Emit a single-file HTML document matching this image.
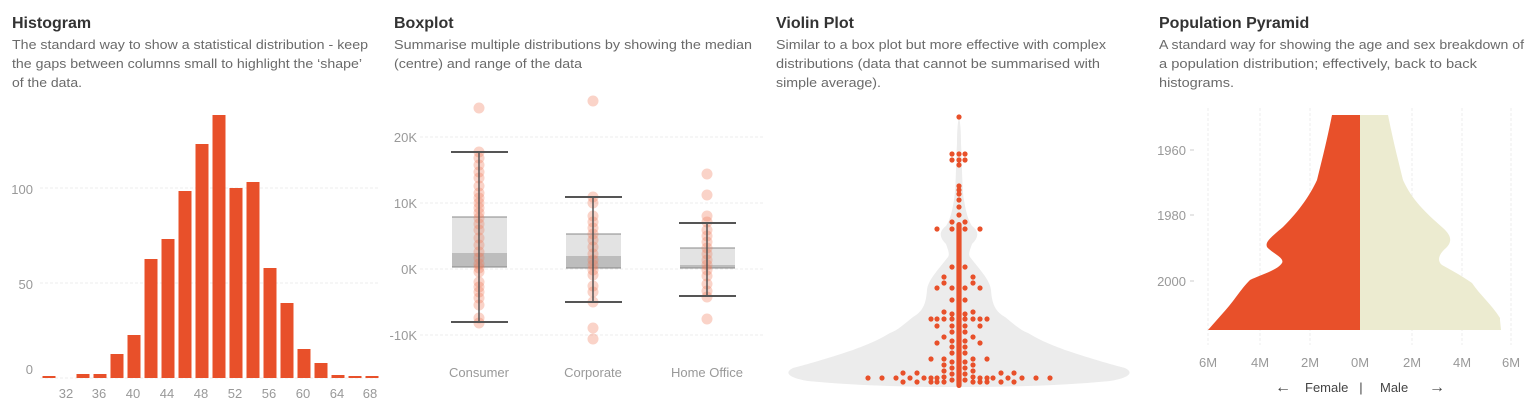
<!DOCTYPE html>
<html><head><meta charset="utf-8"><style>
html,body{margin:0;padding:0;background:#fff;}
svg{display:block;font-family:"Liberation Sans",sans-serif;}
.t{font-size:16px;font-weight:bold;fill:#333;}
.d{font-size:13px;fill:#6a6a6a;}
.ax{font-size:13px;fill:#999;}
.g{stroke:#ececec;stroke-width:1;stroke-dasharray:3 2;}
</style></head><body>
<svg width="1536" height="419" viewBox="0 0 1536 419" xmlns="http://www.w3.org/2000/svg">
<text class="t" x="12" y="28">Histogram</text>
<text class="d" x="12" y="49" textLength="356" lengthAdjust="spacingAndGlyphs">The standard way to show a statistical distribution - keep</text>
<text class="d" x="12" y="68" textLength="350" lengthAdjust="spacingAndGlyphs">the gaps between columns small to highlight the ‘shape’</text>
<text class="d" x="12" y="87" textLength="70" lengthAdjust="spacingAndGlyphs">of the data.</text>

<text class="t" x="394" y="28">Boxplot</text>
<text class="d" x="394" y="49" textLength="358" lengthAdjust="spacingAndGlyphs">Summarise multiple distributions by showing the median</text>
<text class="d" x="394" y="68" textLength="188" lengthAdjust="spacingAndGlyphs">(centre) and range of the data</text>

<text class="t" x="776" y="28">Violin Plot</text>
<text class="d" x="776" y="49" textLength="330" lengthAdjust="spacingAndGlyphs">Similar to a box plot but more effective with complex</text>
<text class="d" x="776" y="68" textLength="324" lengthAdjust="spacingAndGlyphs">distributions (data that cannot be summarised with</text>
<text class="d" x="776" y="87" textLength="105" lengthAdjust="spacingAndGlyphs">simple average).</text>

<text class="t" x="1159" y="28">Population Pyramid</text>
<text class="d" x="1159" y="49" textLength="365" lengthAdjust="spacingAndGlyphs">A standard way for showing the age and sex breakdown of</text>
<text class="d" x="1159" y="68" textLength="318" lengthAdjust="spacingAndGlyphs">a population distribution; effectively, back to back</text>
<text class="d" x="1159" y="87" textLength="75" lengthAdjust="spacingAndGlyphs">histograms.</text>

<!-- Histogram -->
<line class="g" x1="40" y1="188" x2="380" y2="188"/>
<line class="g" x1="40" y1="283" x2="380" y2="283"/>
<line class="g" x1="40" y1="378" x2="380" y2="378"/>
<g class="ax" text-anchor="end">
<text x="33" y="194">100</text><text x="33" y="289">50</text><text x="33" y="374">0</text>
</g>
<g fill="#e8502a">
<rect x="42.5" y="376" width="13" height="2"/>
<rect x="76.5" y="374" width="13" height="4"/>
<rect x="93.5" y="374" width="13" height="4"/>
<rect x="110.5" y="354" width="13" height="24"/>
<rect x="127.5" y="335" width="13" height="43"/>
<rect x="144.5" y="259" width="13" height="119"/>
<rect x="161.5" y="239" width="13" height="139"/>
<rect x="178.5" y="191" width="13" height="187"/>
<rect x="195.5" y="144" width="13" height="234"/>
<rect x="212.5" y="115" width="13" height="263"/>
<rect x="229.5" y="188" width="13" height="190"/>
<rect x="246.5" y="182" width="13" height="196"/>
<rect x="263.5" y="268" width="13" height="110"/>
<rect x="280.5" y="303" width="13" height="75"/>
<rect x="297.5" y="349" width="13" height="29"/>
<rect x="314.5" y="363" width="13" height="15"/>
<rect x="331.5" y="375" width="13" height="3"/>
<rect x="348.5" y="376" width="13" height="2"/>
<rect x="365.5" y="376" width="13" height="2"/>
</g>
<g class="ax" text-anchor="middle">
<text x="66" y="398">32</text><text x="99" y="398">36</text><text x="133" y="398">40</text><text x="167" y="398">44</text><text x="201" y="398">48</text><text x="235" y="398">52</text><text x="269" y="398">56</text><text x="303" y="398">60</text><text x="337" y="398">64</text><text x="370" y="398">68</text>
</g>

<!-- Boxplot -->
<line class="g" x1="420" y1="137" x2="763" y2="137"/>
<line class="g" x1="420" y1="203" x2="763" y2="203"/>
<line class="g" x1="420" y1="269" x2="763" y2="269"/>
<line class="g" x1="420" y1="335" x2="763" y2="335"/>
<g class="ax" text-anchor="end">
<text x="417" y="142">20K</text><text x="417" y="208">10K</text><text x="417" y="274">0K</text><text x="417" y="340">-10K</text>
</g>
<rect x="452" y="217" width="55" height="36" fill="#e3e3e3"/><rect x="452" y="253" width="55" height="14" fill="#bdbdbd"/>
<rect x="566" y="234" width="55" height="22" fill="#e3e3e3"/><rect x="566" y="256" width="55" height="12" fill="#bdbdbd"/>
<rect x="680" y="248" width="55" height="17" fill="#e3e3e3"/><rect x="680" y="265" width="55" height="3" fill="#bdbdbd"/>
<g stroke="#888" stroke-width="1">
<line x1="452" y1="217" x2="507" y2="217"/><line x1="452" y1="267" x2="507" y2="267"/>
<line x1="566" y1="234" x2="621" y2="234"/><line x1="566" y1="268" x2="621" y2="268"/>
<line x1="680" y1="248" x2="735" y2="248"/><line x1="680" y1="268" x2="735" y2="268"/>
</g>
<g fill="#f07858" fill-opacity="0.33">
<circle cx="479" cy="108" r="5.5"/><circle cx="479" cy="152" r="5.5"/><circle cx="479" cy="158" r="5.5"/><circle cx="479" cy="165" r="5.5"/><circle cx="479" cy="172" r="5.5"/><circle cx="479" cy="178" r="5.5"/><circle cx="479" cy="186" r="5.5"/><circle cx="479" cy="193" r="5.5"/><circle cx="479" cy="198" r="5.5"/><circle cx="479" cy="203" r="5.5"/><circle cx="479" cy="208" r="5.5"/><circle cx="479" cy="213" r="5.5"/><circle cx="479" cy="218" r="5.5"/><circle cx="479" cy="224" r="5.5"/><circle cx="479" cy="230" r="5.5"/><circle cx="479" cy="238" r="5.5"/><circle cx="479" cy="245" r="5.5"/><circle cx="479" cy="252" r="5.5"/><circle cx="479" cy="258" r="5.5"/><circle cx="479" cy="264" r="5.5"/><circle cx="479" cy="268" r="5.5"/><circle cx="479" cy="272" r="5.5"/><circle cx="479" cy="282" r="5.5"/><circle cx="479" cy="287" r="5.5"/><circle cx="479" cy="292" r="5.5"/><circle cx="479" cy="298" r="5.5"/><circle cx="479" cy="305" r="5.5"/><circle cx="479" cy="318" r="5.5"/><circle cx="479" cy="323" r="5.5"/>
<circle cx="593" cy="101" r="5.5"/><circle cx="593" cy="197" r="5.5"/><circle cx="593" cy="203" r="5.5"/><circle cx="593" cy="216" r="5.5"/><circle cx="593" cy="222" r="5.5"/><circle cx="593" cy="228" r="5.5"/><circle cx="593" cy="234" r="5.5"/><circle cx="593" cy="240" r="5.5"/><circle cx="593" cy="247" r="5.5"/><circle cx="593" cy="254" r="5.5"/><circle cx="593" cy="260" r="5.5"/><circle cx="593" cy="265" r="5.5"/><circle cx="593" cy="270" r="5.5"/><circle cx="593" cy="275" r="5.5"/><circle cx="593" cy="286" r="5.5"/><circle cx="593" cy="292" r="5.5"/><circle cx="593" cy="302" r="5.5"/><circle cx="593" cy="328" r="5.5"/><circle cx="593" cy="339" r="5.5"/>
<circle cx="707" cy="174" r="5.5"/><circle cx="707" cy="195" r="5.5"/><circle cx="707" cy="216" r="5.5"/><circle cx="707" cy="222" r="5.5"/><circle cx="707" cy="230" r="5.5"/><circle cx="707" cy="236" r="5.5"/><circle cx="707" cy="242" r="5.5"/><circle cx="707" cy="248" r="5.5"/><circle cx="707" cy="254" r="5.5"/><circle cx="707" cy="260" r="5.5"/><circle cx="707" cy="265" r="5.5"/><circle cx="707" cy="270" r="5.5"/><circle cx="707" cy="276" r="5.5"/><circle cx="707" cy="284" r="5.5"/><circle cx="707" cy="291" r="5.5"/><circle cx="707" cy="297" r="5.5"/><circle cx="707" cy="319" r="5.5"/>
</g>
<g stroke="#555" stroke-width="2">
<line x1="479" y1="152" x2="479" y2="322" stroke-width="1.5"/><line x1="451" y1="152" x2="508" y2="152"/><line x1="451" y1="322" x2="508" y2="322"/>
<line x1="593" y1="197" x2="593" y2="302" stroke-width="1.5"/><line x1="565" y1="197" x2="622" y2="197"/><line x1="565" y1="302" x2="622" y2="302"/>
<line x1="707" y1="223" x2="707" y2="296" stroke-width="1.5"/><line x1="679" y1="223" x2="736" y2="223"/><line x1="679" y1="296" x2="736" y2="296"/>
</g>
<g class="ax" text-anchor="middle">
<text x="479" y="377">Consumer</text><text x="593" y="377">Corporate</text><text x="707" y="377">Home Office</text>
</g>

<!-- Violin -->
<path fill="#ececec" d="M959,117 C961,125 961,140 961,143 C962,160 962,190 964,200 C966,212 968,220 972,226 C980,232 978,238 972,244 C970,250 968,254 970,257 C980,270 990,280 991,290 C992,305 996,312 1005,317 C1015,325 1020,330 1028,333 C1045,343 1055,346 1065,350 C1095,360 1110,364 1125,368 C1135,373 1128,378 1110,381 C1060,386 1000,387 959,387 C918,387 858,386 808,381 C790,378 783,373 793,368 C808,364 823,360 853,350 C863,346 873,343 890,333 C898,330 903,325 913,317 C922,312 926,305 927,290 C928,280 938,270 948,257 C950,254 948,250 946,244 C940,238 938,232 946,226 C950,220 952,212 954,200 C956,190 956,160 957,143 C957,140 957,125 959,117 Z"/>
<g fill="#e8502a">
<circle cx="959" cy="117" r="2.6"/>
<circle cx="952" cy="154" r="2.6"/><circle cx="959" cy="154" r="2.6"/><circle cx="965" cy="154" r="2.6"/>
<circle cx="952" cy="160" r="2.6"/><circle cx="959" cy="160" r="2.6"/><circle cx="965" cy="160" r="2.6"/><circle cx="959" cy="165" r="2.6"/>
<circle cx="959" cy="186" r="2.6"/><circle cx="959" cy="190" r="2.6"/><circle cx="959" cy="194" r="2.6"/><circle cx="959" cy="200" r="2.6"/><circle cx="959" cy="207" r="2.6"/><circle cx="959" cy="215" r="2.6"/>
<circle cx="952" cy="222" r="2.6"/><circle cx="965" cy="222" r="2.6"/><circle cx="952" cy="229" r="2.6"/><circle cx="965" cy="229" r="2.6"/>
<circle cx="937" cy="229" r="2.6"/><circle cx="980" cy="229" r="2.6"/>
<circle cx="944" cy="277" r="2.6"/><circle cx="973" cy="277" r="2.6"/><circle cx="944" cy="283" r="2.6"/><circle cx="973" cy="283" r="2.6"/>
<circle cx="952" cy="267" r="2.6"/><circle cx="965" cy="267" r="2.6"/>
<circle cx="937" cy="288" r="2.6"/><circle cx="952" cy="288" r="2.6"/><circle cx="965" cy="288" r="2.6"/><circle cx="980" cy="288" r="2.6"/>
<circle cx="952" cy="300" r="2.6"/><circle cx="965" cy="300" r="2.6"/>
<circle cx="944" cy="312" r="2.6"/><circle cx="973" cy="312" r="2.6"/><circle cx="952" cy="314" r="2.6"/><circle cx="965" cy="314" r="2.6"/>
<circle cx="931" cy="319" r="2.6"/><circle cx="937" cy="319" r="2.6"/><circle cx="944" cy="319" r="2.6"/><circle cx="952" cy="319" r="2.6"/><circle cx="965" cy="319" r="2.6"/><circle cx="973" cy="319" r="2.6"/><circle cx="980" cy="319" r="2.6"/><circle cx="987" cy="319" r="2.6"/>
<circle cx="937" cy="326" r="2.6"/><circle cx="952" cy="326" r="2.6"/><circle cx="965" cy="326" r="2.6"/><circle cx="980" cy="326" r="2.6"/><circle cx="952" cy="332" r="2.6"/><circle cx="965" cy="332" r="2.6"/>
<circle cx="944" cy="337" r="2.6"/><circle cx="973" cy="337" r="2.6"/><circle cx="937" cy="343" r="2.6"/><circle cx="980" cy="343" r="2.6"/>
<circle cx="952" cy="341" r="2.6"/><circle cx="965" cy="341" r="2.6"/><circle cx="952" cy="347" r="2.6"/><circle cx="965" cy="347" r="2.6"/><circle cx="952" cy="353" r="2.6"/><circle cx="965" cy="353" r="2.6"/>
<circle cx="931" cy="359" r="2.6"/><circle cx="987" cy="359" r="2.6"/>
<circle cx="944" cy="359" r="2.6"/><circle cx="944" cy="365" r="2.6"/><circle cx="944" cy="371" r="2.6"/><circle cx="944" cy="377" r="2.6"/><circle cx="944" cy="382" r="2.6"/>
<circle cx="973" cy="359" r="2.6"/><circle cx="973" cy="365" r="2.6"/><circle cx="973" cy="371" r="2.6"/><circle cx="973" cy="377" r="2.6"/><circle cx="973" cy="382" r="2.6"/>
<circle cx="952" cy="362" r="2.6"/><circle cx="952" cy="368" r="2.6"/><circle cx="952" cy="374" r="2.6"/><circle cx="952" cy="380" r="2.6"/>
<circle cx="965" cy="362" r="2.6"/><circle cx="965" cy="368" r="2.6"/><circle cx="965" cy="374" r="2.6"/><circle cx="965" cy="380" r="2.6"/>
<circle cx="868" cy="378" r="2.6"/><circle cx="882" cy="378" r="2.6"/><circle cx="896" cy="378" r="2.6"/><circle cx="910" cy="378" r="2.6"/><circle cx="924" cy="378" r="2.6"/><circle cx="931" cy="378" r="2.6"/><circle cx="937" cy="378" r="2.6"/><circle cx="980" cy="378" r="2.6"/><circle cx="987" cy="378" r="2.6"/><circle cx="993" cy="378" r="2.6"/><circle cx="1008" cy="378" r="2.6"/><circle cx="1022" cy="378" r="2.6"/><circle cx="1036" cy="378" r="2.6"/><circle cx="1050" cy="378" r="2.6"/>
<circle cx="903" cy="373" r="2.6"/><circle cx="917" cy="373" r="2.6"/><circle cx="1001" cy="373" r="2.6"/><circle cx="1014" cy="373" r="2.6"/>
<circle cx="903" cy="382" r="2.6"/><circle cx="917" cy="382" r="2.6"/><circle cx="1001" cy="382" r="2.6"/><circle cx="1014" cy="382" r="2.6"/>
<circle cx="931" cy="382" r="2.6"/><circle cx="937" cy="382" r="2.6"/><circle cx="980" cy="382" r="2.6"/><circle cx="987" cy="382" r="2.6"/>
<rect x="956.4" y="222" width="5.2" height="166" rx="2.6"/>
</g>

<!-- Pyramid -->
<g class="g">
<line x1="1208" y1="108" x2="1208" y2="345"/><line x1="1260" y1="108" x2="1260" y2="345"/><line x1="1310" y1="108" x2="1310" y2="345"/><line x1="1412" y1="108" x2="1412" y2="345"/><line x1="1462" y1="108" x2="1462" y2="345"/><line x1="1511" y1="108" x2="1511" y2="345"/>
</g>
<g class="ax" text-anchor="end">
<text x="1186" y="155">1960</text><text x="1186" y="220">1980</text><text x="1186" y="286">2000</text>
</g>
<g stroke="#ccc"><line x1="1190" y1="150" x2="1194" y2="150"/><line x1="1190" y1="215" x2="1194" y2="215"/><line x1="1190" y1="281" x2="1194" y2="281"/></g>
<path fill="#e8502a" d="M1360,115 L1332,115 C1327,140 1322,160 1317,180 C1310,195 1300,210 1283,227 C1270,238 1265,242 1267,247 C1272,253 1285,258 1282,263 C1278,270 1260,275 1250,280 C1240,290 1235,300 1223,313 L1208,330 L1360,330 Z"/>
<path fill="#ecebd0" d="M1360,115 L1388,115 C1393,140 1398,160 1403,180 C1412,200 1425,212 1443,228 C1452,236 1452,242 1446,248 C1440,253 1436,260 1442,265 C1455,272 1465,278 1472,283 C1480,295 1492,305 1500,318 L1500,320 L1501,330 L1360,330 Z"/>
<g class="ax" text-anchor="middle">
<text x="1208" y="367">6M</text><text x="1260" y="367">4M</text><text x="1310" y="367">2M</text><text x="1360" y="367">0M</text><text x="1412" y="367">2M</text><text x="1462" y="367">4M</text><text x="1511" y="367">6M</text>
</g>
<g font-size="13" fill="#444">
<text x="1283" y="392" text-anchor="middle" font-size="16">←</text>
<text x="1305" y="392">Female</text>
<text x="1361" y="392" text-anchor="middle">|</text>
<text x="1380" y="392">Male</text>
<text x="1437" y="392" text-anchor="middle" font-size="16">→</text>
</g>
</svg>
</body></html>
